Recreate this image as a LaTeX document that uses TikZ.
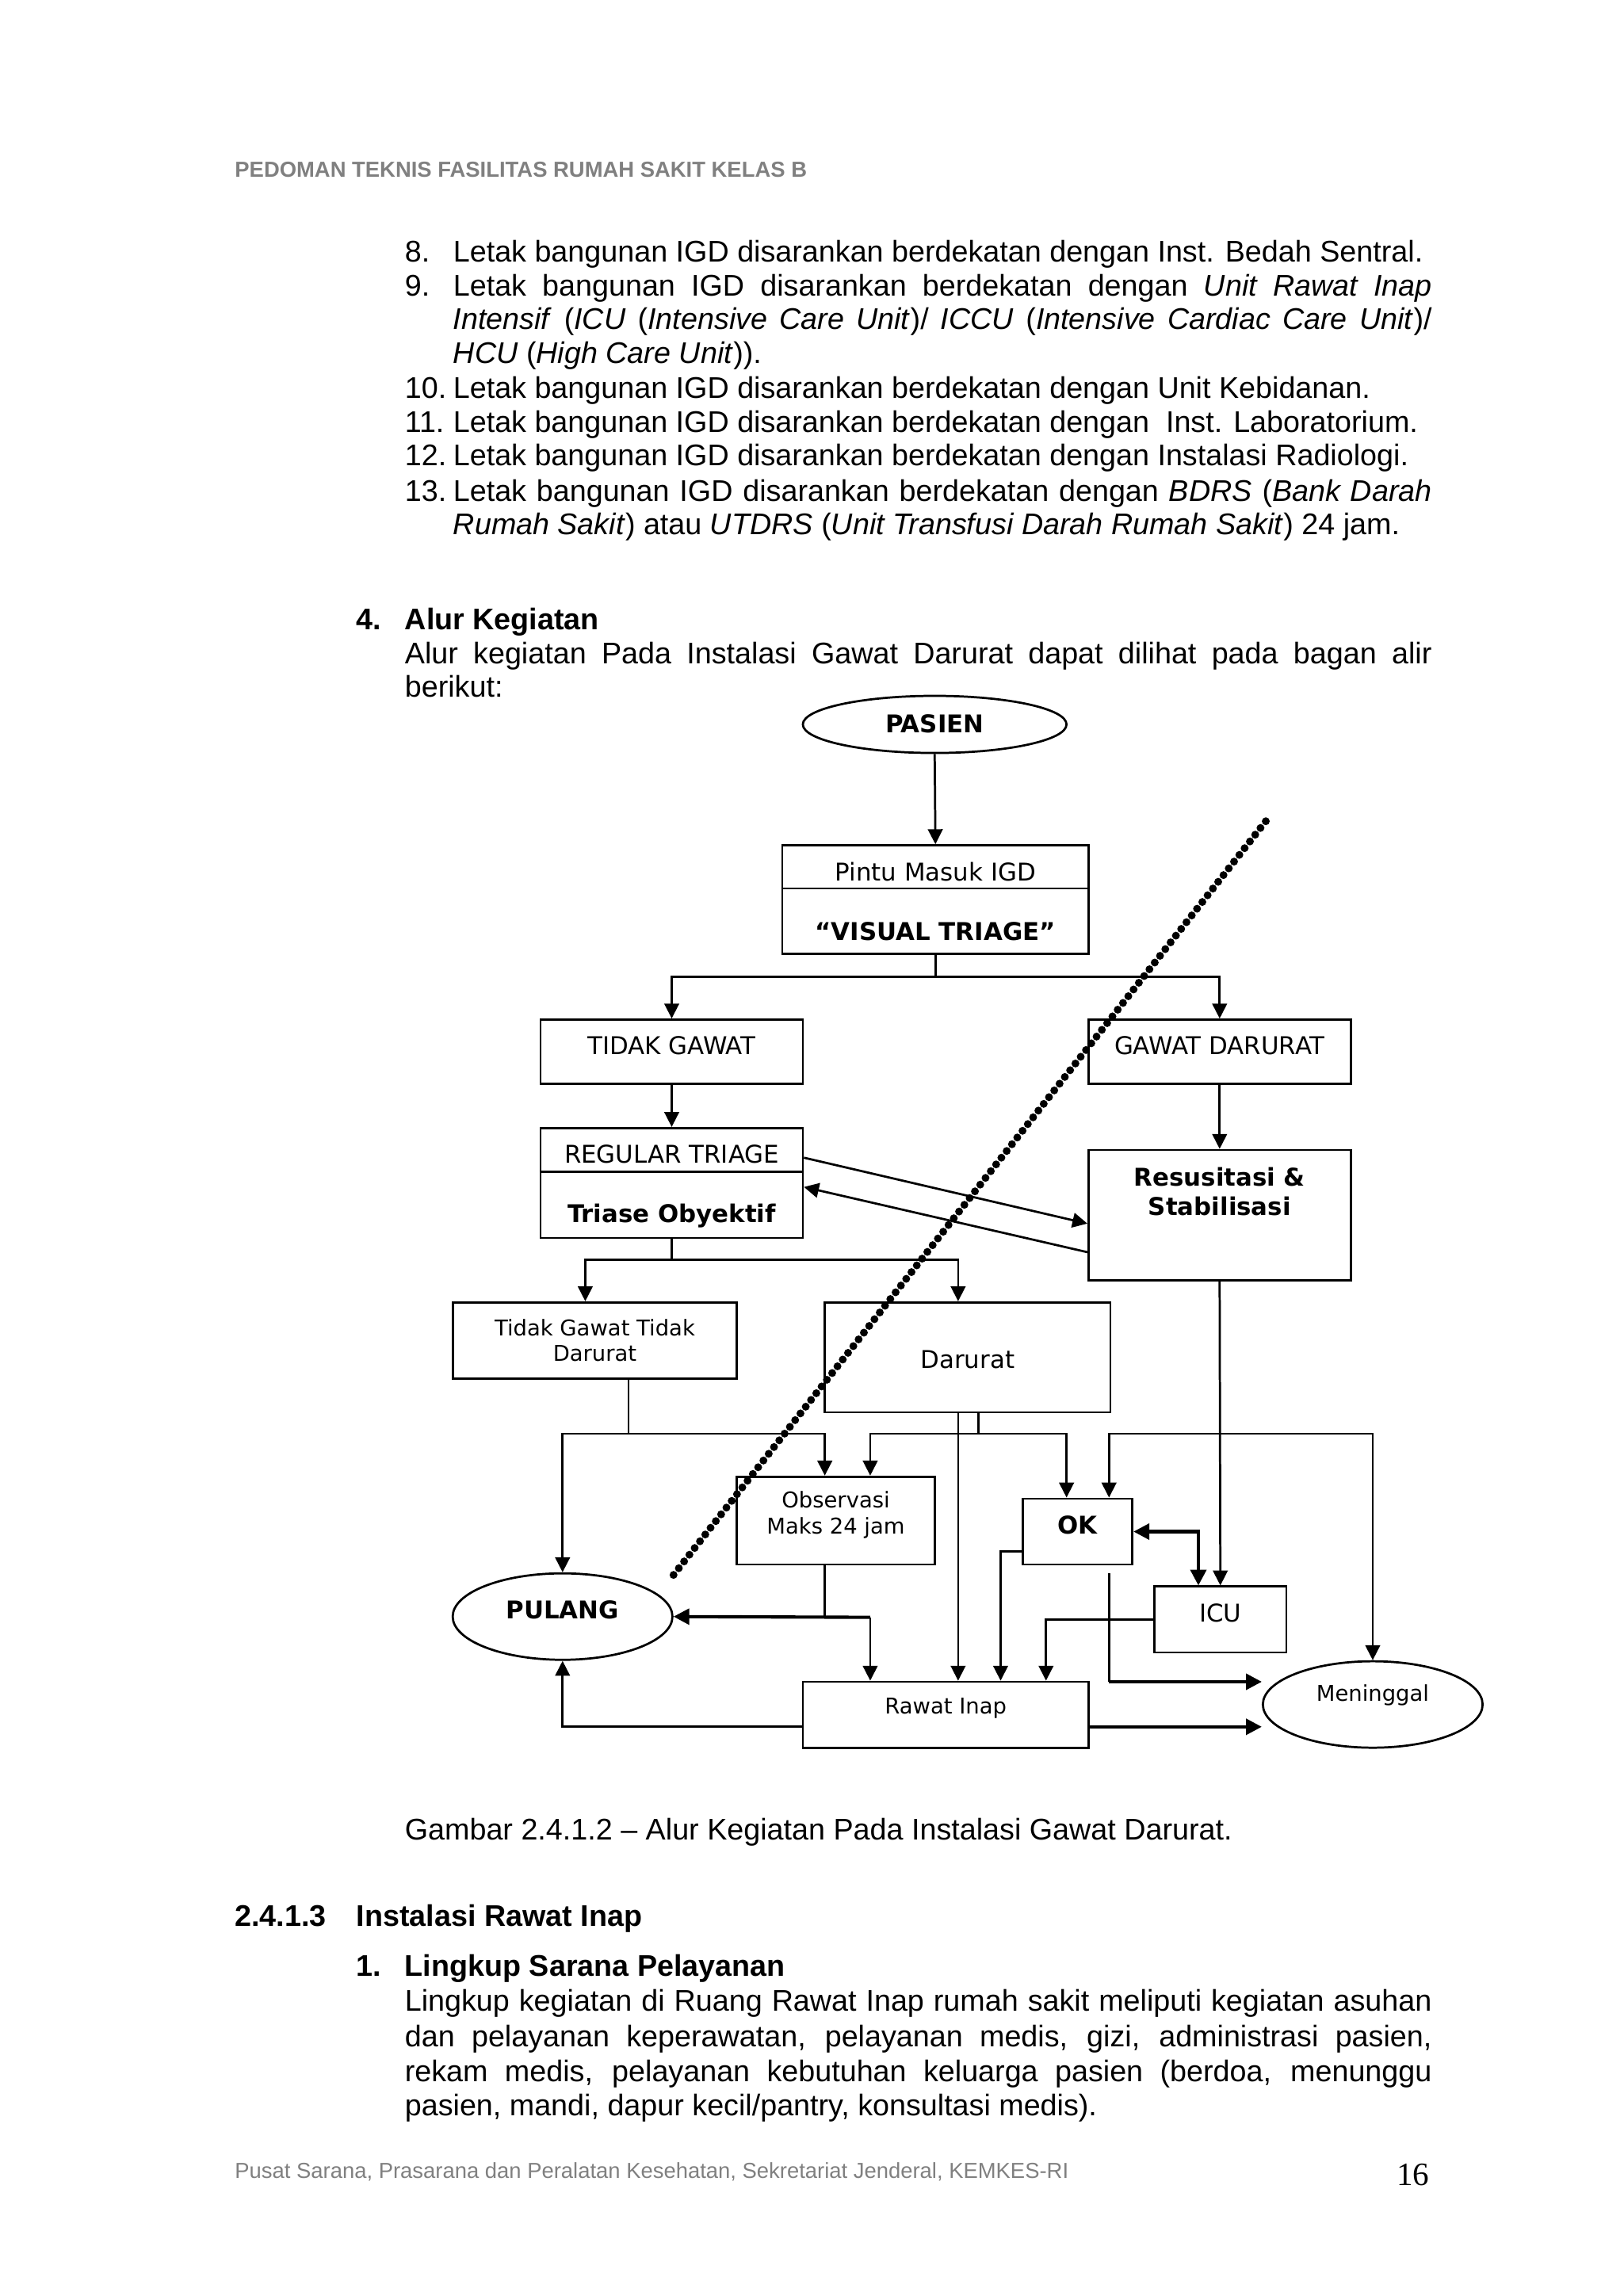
\documentclass[tikz,border=0pt]{standalone}
\usepackage{fontspec}
\setmainfont{Liberation Sans}
\newfontfamily\diafont{DejaVu Sans}
\newfontfamily\pgnumfont{Liberation Serif}
\usetikzlibrary{arrows.meta,shapes.geometric,calc}
\newlength{\upx}
\setlength{\upx}{0.018953cm}

\tikzset{
  box/.style={draw,line width=0.8pt,inner sep=0pt},
  oval/.style={draw,ellipse,line width=0.8pt,inner sep=0pt},
  lbl/.style={inner sep=0pt,align=center,font=\diafont\fontsize{9}{10.8}\selectfont},
  lblbold/.style={lbl,font=\diafont\bfseries\fontsize{9}{10.8}\selectfont},
  lblsmall/.style={lbl,font=\diafont\fontsize{8}{9.6}\selectfont},
  arr/.style={line width=0.8pt,-{Triangle[length=5.5pt,width=5.4pt]}},
  tarr/.style={line width=1.2pt,-{Triangle[length=5.8pt,width=5.8pt]}},
  txt/.style={anchor=base west,inner sep=0pt,font=\fontsize{11}{13}\selectfont},
  txtbold/.style={txt,font=\bfseries\fontsize{11}{13}\selectfont},
  dotline/.style={line width=2.9pt,line cap=round,dash pattern=on 0pt off 3.15pt},
}

\begin{document}
\begin{tikzpicture}[x=0.018953cm,y=-0.018953cm]
\useasboundingbox[fill=white] (0,0) rectangle (1108,1567.3);

% Header
\node[anchor=base west,inner sep=0pt,text=black!50,font=\bfseries\fontsize{8}{10}\selectfont] (hdr) at (160,121) {PEDOMAN TEKNIS FASILITAS RUMAH SAKIT KELAS B};

% List 8 - 13
\node[txt] (n8) at (276,179) {8.};
\node[txt] (t8) at (309,179) {Letak bangunan IGD disarankan berdekatan dengan Inst. Bedah Sentral.};
\node[txt] (n9) at (276,202) {9.};
\node[txt] (t9a) at (309,202) {\makebox[668\upx][s]{Letak bangunan IGD disarankan berdekatan dengan \textit{Unit Rawat Inap}}};
\node[txt] (t9b) at (309,225) {\makebox[668\upx][s]{\textit{Intensif} (\textit{ICU} (\textit{Intensive Care Unit})/ \textit{ICCU} (\textit{Intensive Cardiac Care Unit})/}};
\node[txt] (t9c) at (309,248) {\textit{HCU} (\textit{High Care Unit})).};
\node[txt] (n10) at (276,272) {10.};
\node[txt] (t10) at (309,272) {Letak bangunan IGD disarankan berdekatan dengan Unit Kebidanan.};
\node[txt] (n11) at (276,295) {11.};
\node[txt] (t11) at (309,295) {Letak bangunan IGD disarankan berdekatan dengan \ Inst. Laboratorium.};
\node[txt] (n12) at (276,318) {12.};
\node[txt] (t12) at (309,318) {Letak bangunan IGD disarankan berdekatan dengan Instalasi Radiologi.};
\node[txt] (n13) at (276,342) {13.};
\node[txt] (t13a) at (309,342) {\makebox[668\upx][s]{Letak bangunan IGD disarankan berdekatan dengan \textit{BDRS} (\textit{Bank Darah}}};
\node[txt] (t13b) at (309,365) {\textit{Rumah Sakit}) atau \textit{UTDRS} (\textit{Unit Transfusi Darah Rumah Sakit}) 24 jam.};

% 4. Alur Kegiatan
\node[txtbold] (n4) at (243,430) {4.};
\node[txtbold] (alur) at (276,430) {Alur Kegiatan};
\node[txt] (alur1) at (276,453) {\makebox[701\upx][s]{Alur kegiatan Pada Instalasi Gawat Darurat dapat dilihat pada bagan alir}};
\node[txt] (alur2) at (276,476) {berikut:};

% Boxes
\node[oval,minimum width=180*\upx,minimum height=39*\upx] (pasien) at (638,494.5) {};
\node[box,minimum width=209*\upx,minimum height=74*\upx] (pintu) at (638.5,614) {};
\node[box,minimum width=179*\upx,minimum height=44*\upx] (tidak) at (458.5,718) {};
\node[box,minimum width=179*\upx,minimum height=44*\upx] (gawat) at (832.5,718) {};
\node[box,minimum width=179*\upx,minimum height=75*\upx] (regular) at (458.5,807.5) {};
\node[box,minimum width=179*\upx,minimum height=89*\upx] (resus) at (832.5,829.5) {};
\node[box,minimum width=194*\upx,minimum height=52*\upx] (tgtd) at (406,915) {};
\node[box,minimum width=195*\upx,minimum height=75*\upx] (darurat) at (660.5,926.5) {};
\node[box,minimum width=135*\upx,minimum height=60*\upx] (obs) at (570.5,1038) {};
\node[box,minimum width=75*\upx,minimum height=45*\upx] (ok) at (735.5,1045.5) {};
\node[box,minimum width=90*\upx,minimum height=45*\upx] (icu) at (833,1105.5) {};
\node[oval,minimum width=150*\upx,minimum height=59*\upx] (pulang) at (384,1103.5) {};
\node[box,minimum width=195*\upx,minimum height=45*\upx] (rawat) at (645.5,1170.5) {};
\node[oval,minimum width=150*\upx,minimum height=59*\upx] (mening) at (937,1163.5) {};

% Dividers
\draw[line width=0.8pt] (pintu.west |- 0,606.5) -- (pintu.east |- 0,606.5);
\draw[line width=0.8pt] (regular.west |- 0,800) -- (regular.east |- 0,800);

% Labels
\node[lblbold] (pasien-t) at (638,494) {PASIEN};
\node[lbl] (pintu-t1) at (638.5,595) {Pintu Masuk IGD};
\node[lblbold] (pintu-t2) at (638.5,636) {“VISUAL TRIAGE”};
\node[lbl] (tidak-t) at (458.5,714) {TIDAK GAWAT};
\node[lbl] (gawat-t) at (832.5,714) {GAWAT DARURAT};
\node[lbl] (regular-t1) at (458.5,788) {REGULAR TRIAGE};
\node[lblbold] (regular-t2) at (458.5,830) {Triase Obyektif};
\node[lblbold] (resus-t) at (832.5,813.5) {Resusitasi \&\\Stabilisasi};
\node[lblsmall] (tgtd-t) at (406,915) {Tidak Gawat Tidak\\Darurat};
\node[lbl] (darurat-t) at (660.5,928) {Darurat};
\node[lblsmall] (obs-t) at (570.5,1034) {Observasi\\Maks 24 jam};
\node[lblbold] (ok-t) at (735.5,1041) {OK};
\node[lbl] (icu-t) at (833,1101) {ICU};
\node[lblbold] (pulang-t) at (384,1099) {PULANG};
\node[lblsmall] (rawat-t) at (645.5,1166) {Rawat Inap};
\node[lblsmall] (mening-t) at (937,1157) {Meninggal};

% Connectors
\draw[arr] (pasien.south) -- (pintu.north);
\draw[arr] (pintu.south) -- ++(0,15) -| (tidak.north);
\draw[arr] (pintu.south) -- ++(0,15) -| (gawat.north);
\draw[arr] (tidak.south) -- (regular.north);
\draw[arr] (gawat.south) -- (resus.north);
\draw[arr] ($(regular.north east)+(0,21)$) -- ($(resus.north west)+(0,51)$);
\draw[arr] ($(resus.north west)+(0,70.5)$) -- ($(regular.north east)+(0,41)$);
\draw[arr] (regular.south) -- ++(0,14) -| (tgtd.north -| 399.5,0);
\draw[arr] (regular.south) -- ++(0,14) -| (darurat.north -| 654,0);
\draw[arr] (tgtd.south -| 429,0) -- ++(0,37) -| (pulang.north);
\draw[arr] (tgtd.south -| 429,0) -- ++(0,37) -| (obs.north -| 563,0);
\draw[arr] (darurat.south -| 654,0) -- (rawat.north -| 654,0);
\draw[arr] (darurat.south -| 668,0) -- ++(0,14) -| (obs.north -| 594,0);
\draw[arr] (darurat.south -| 668,0) -- ++(0,14) -| (ok.north -| 728,0);
\draw[arr] (resus.south) -- (icu.north);
\draw[arr] ($(resus.south)+(0,104)$) -| (ok.north -| 757,0);
\draw[arr] ($(resus.south)+(0,104)$) -| (mening.north);
\draw[tarr,{Triangle[length=5.8pt,width=5.8pt]}-{Triangle[length=5.8pt,width=5.8pt]}] (ok.east) -| (icu.north -| 818,0);
\draw[arr] (ok.west |- 0,1059) -| (rawat.north -| 683,0);
\draw[arr] (icu.west) -| (rawat.north -| 714,0);
\coordinate (okturn) at (757,1148);
\draw[line width=0.8pt] (ok.south -| okturn) ++(0,5) -- (okturn);
\draw[tarr] (okturn) -- (mening.west |- okturn);
\coordinate (obsr) at (594,1104);
\draw[line width=0.8pt] (obs.south -| 563,0) -- (pulang.east -| 563,0);
\draw[tarr] (obsr) -- (pulang.east);
\draw[arr] (obsr) -- (rawat.north -| obsr);
\coordinate (rw) at ($(rawat.south west)+(0,-15)$);
\coordinate (re) at ($(rawat.south east)+(0,-15)$);
\draw[arr] (rw) -| (pulang.south);
\draw[tarr] (re) -- (re -| mening.west);

% Dotted diagonal
\draw[dotline] (864,560.6) -- (459,1076);

% Caption and next section
\node[txt] (caption) at (276,1256) {Gambar 2.4.1.2 – Alur Kegiatan Pada Instalasi Gawat Darurat.};
\node[txtbold] (sec) at (160,1315) {2.4.1.3};
\node[txtbold] (sect) at (243,1315) {Instalasi Rawat Inap};
\node[txtbold] (n1) at (243,1349) {1.};
\node[txtbold] (lingkup) at (276,1349) {Lingkup Sarana Pelayanan};
\node[txt] (p1) at (276,1373) {\makebox[701\upx][s]{Lingkup kegiatan di Ruang Rawat Inap rumah sakit meliputi kegiatan asuhan}};
\node[txt] (p2) at (276,1397) {\makebox[701\upx][s]{dan pelayanan keperawatan, pelayanan medis, gizi, administrasi pasien,}};
\node[txt] (p3) at (276,1421) {\makebox[701\upx][s]{rekam medis, pelayanan kebutuhan keluarga pasien (berdoa, menunggu}};
\node[txt] (p4) at (276,1444) {pasien, mandi, dapur kecil/pantry, konsultasi medis).};

% Footer
\node[anchor=base west,inner sep=0pt,text=black!50,font=\fontsize{8}{10}\selectfont] (ftr) at (160,1487) {Pusat Sarana, Prasarana dan Peralatan Kesehatan, Sekretariat Jenderal, KEMKES-RI};
\node[anchor=base east,inner sep=0pt,font=\pgnumfont\fontsize{12}{14}\selectfont] (pgno) at (976,1492) {16};

\end{tikzpicture}
\end{document}
